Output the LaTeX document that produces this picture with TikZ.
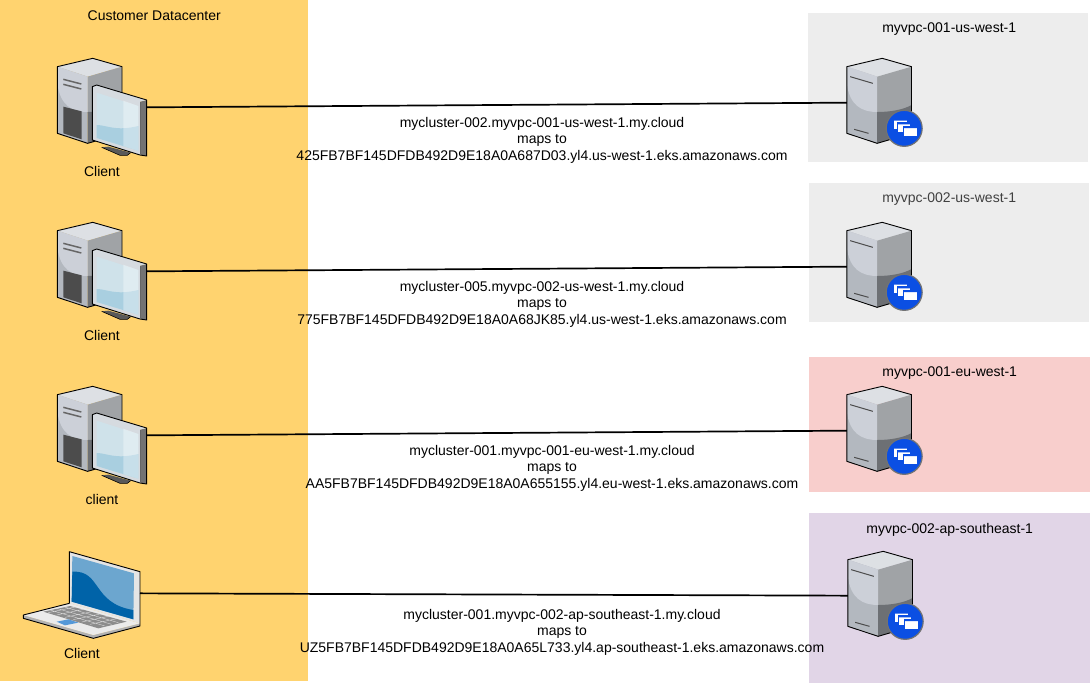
\documentclass[tikz,border=0pt]{standalone}
\usepackage{fontspec}
\setmainfont{Liberation Sans}
\usetikzlibrary{calc,positioning}
\definecolor{dcorange}{HTML}{FFD36F}
\definecolor{vpcgray}{HTML}{EDEDED}
\definecolor{vpcred}{HTML}{F8CECC}
\definecolor{vpcpurple}{HTML}{E1D5E7}
\definecolor{badgeblue}{HTML}{0B4FE3}
\definecolor{lapblue}{HTML}{0063A8}
\definecolor{lapsky}{HTML}{6CA6CF}
\definecolor{towertop}{HTML}{DDE0E4}
\definecolor{towerside}{HTML}{B3B8BF}
\definecolor{towerlight}{HTML}{CCD0D8}
\definecolor{towerright}{HTML}{A0A3A6}
\definecolor{towerdark}{HTML}{6D7074}
\definecolor{screenpale}{HTML}{CFE2EA}
\definecolor{screenwave}{HTML}{A9CFE0}
\definecolor{bezel}{HTML}{D6DBE0}
\newcommand{\towerbody}{
  \fill [towertop] (52,50) -- (158,25) -- (246,50) -- (143,80) -- cycle;
  \fill [towerside] (52,50) -- (143,80) -- (143,280) -- (52,250) -- cycle;
  \fill [towerright] (143,80) -- (246,50) -- (246,190) -- (143,190) -- cycle;
  \fill [towerdark] (143,186) .. controls (180,186) and (220,180) .. (246,165) -- (246,250) -- (143,280) -- cycle;
  \fill [towerlight] (52,50) -- (143,80) -- (143,186) .. controls (95,186) and (60,165) .. (52,100) -- cycle;
  \draw [edge] (52,50) -- (158,25) -- (246,50) -- (246,250) -- (143,280) -- (52,250) -- cycle;
}
\tikzset{
  vpcbox/.style={rectangle, inner sep=0pt, anchor=north west},
  caption/.style={font=\fontsize{14}{16}\selectfont, inner sep=0pt},
  maplabel/.style={font=\fontsize{14}{16.4}\selectfont, align=center, inner sep=0pt},
  link/.style={draw=black, line width=1.7pt},
  edge/.style={draw=black, line width=0.9pt, line join=round},
  pics/desktop/.style={code={
    \begin{scope}[scale=1/3]
      \towerbody
      \draw [black!60, line width=1.5pt] (70,88) -- (124,102) (70,103) -- (124,117);
      \fill [black!70] (70,170) -- (125,184) -- (125,268) -- (70,250) -- cycle;
      \fill [black!65] (185,292) -- (205,290) -- (272,308) -- (262,316) -- (240,316) -- cycle;
      \fill [black!55] (300,155) -- (320,150) -- (320,318) -- (300,315) -- cycle;
      \fill [bezel] (157,110) -- (170,105) -- (320,150) -- (300,155) -- (300,315) -- (157,270) -- cycle;
      \fill [screenpale] (170,128) -- (295,168) -- (295,302) -- (170,264) -- cycle;
      \fill [screenwave] (170,225) .. controls (200,225) and (225,245) .. (295,228) -- (295,302) -- (170,264) -- cycle;
      \fill [white, opacity=0.35] (250,152) -- (295,168) -- (295,302) -- (250,288) -- cycle;
      \draw [edge] (157,110) -- (170,105) -- (320,150) -- (320,318) -- (300,315) -- (157,270) -- cycle;
      \draw [black!60, line width=0.5pt] (300,155) -- (300,315);
      \draw [edge, line width=0.6pt] (185,292) -- (240,316) -- (262,316) -- (272,308);
      \coordinate (-port) at (320,172);
    \end{scope}
  }},
  pics/server/.style={code={
    \begin{scope}[scale=1/3]
      \towerbody
      \draw [black!70, line width=1pt] (62,80) -- (130,100) (74,238) -- (117,250);
      \fill [badgeblue, draw=black!55, line width=1.2pt] (224,235) circle (54);
      \draw [badgeblue, fill=white, line width=0.6pt] (192,207) rectangle (232,238);
      \draw [badgeblue, fill=white, line width=0.6pt] (204,218) rectangle (242,248);
      \draw [badgeblue, fill=white, line width=0.6pt] (221,229) rectangle (264,260);
      \fill [badgeblue] (192,207) rectangle (232,212) (204,218) rectangle (242,223) (221,229) rectangle (264,234);
      \coordinate (-port) at (52,158);
    \end{scope}
  }},
  pics/laptop/.style={code={
    \begin{scope}[scale=1/3]
      \fill [black!30] (25,225) -- (235,285) -- (375,250) -- (375,258) -- (235,295) -- (25,235) -- cycle;
      \fill [black!8] (25,225) -- (163,190) -- (375,250) -- (235,285) -- cycle;
      \fill [black!45] (85,215) -- (165,198) -- (335,245) -- (250,265) -- cycle;
      \draw [black!12, line width=0.35pt] (100,218) -- (180,201) (125,225) -- (205,208) (150,232) -- (230,215) (175,239) -- (255,222) (200,246) -- (280,229) (225,253) -- (305,236)
        (105,210) -- (270,258) (125,205) -- (290,253) (145,200) -- (310,248);
      \fill [cyan!60!blue!70!white] (125,245) -- (160,238) -- (190,248) -- (150,256) -- cycle;
      \fill [black!10] (163,35) -- (375,95) -- (375,250) -- (163,190) -- cycle;
      \fill [lapsky] (172,48) -- (357,100) -- (355,238) -- (170,185) -- cycle;
      \fill [lapblue] (172,95) .. controls (260,90) and (230,190) .. (355,210) -- (355,238) -- (170,185) -- cycle;
      \draw [edge] (163,190) -- (163,35) -- (375,95) -- (375,258) -- (235,295) -- (25,235) -- (25,225) -- (163,190);
      \coordinate (-port) at (375,160);
    \end{scope}
  }},
}
\begin{document}
\begin{tikzpicture}[x=1pt, y=-1pt]
\useasboundingbox (0,0) rectangle (1090,683);
% regions
\node [vpcbox, fill=dcorange, minimum width=308pt, minimum height=681pt] (dc) at (0,0) {};
\node [vpcbox, fill=vpcgray, minimum width=280pt, minimum height=149pt] (vpc1) at (808,13) {};
\node [vpcbox, fill=vpcgray, minimum width=280pt, minimum height=139pt] (vpc2) at (809,183) {};
\node [vpcbox, fill=vpcred, minimum width=281pt, minimum height=135pt] (vpc3) at (809,357) {};
\node [vpcbox, fill=vpcpurple, minimum width=281pt, minimum height=170pt] (vpc4) at (809,513) {};
\node [caption, below=11pt of dc.north] (dctitle) {Customer Datacenter};
\node [caption, below=10pt of vpc1.north, xshift=1pt] (title1) {myvpc-001-us-west-1};
\node [caption, below=10pt of vpc2.north, text=black!75] (title2) {myvpc-002-us-west-1};
\node [caption, below=10pt of vpc3.north] (title3) {myvpc-001-eu-west-1};
\node [caption, below=10pt of vpc4.north] (title4) {myvpc-002-ap-southeast-1};
% clients
\pic (client1) at (40,50) {desktop};
\pic (client2) at (40,214) {desktop};
\pic (client3) at (40,378) {desktop};
\pic (client4) at (15,540) {laptop};
\node [caption] (name1) at (102,171) {Client};
\node [caption] (name2) at (102,335) {Client};
\node [caption] (name3) at (102,499) {client};
\node [caption] (name4) at (82,653) {Client};
% servers
\pic (server1) at (829.5,50) {server};
\pic (server2) at (829.5,214) {server};
\pic (server3) at (829.5,378) {server};
\pic (server4) at (830.5,543) {server};
% links
\draw [link] (client1-port) -- (server1-port);
\draw [link] (client2-port) -- (server2-port);
\draw [link] (client3-port) -- (server3-port);
\draw [link] (client4-port) -- (server4-port);
\node [maplabel] (map1) at (542,140) {mycluster-002.myvpc-001-us-west-1.my.cloud\\maps to\\425FB7BF145DFDB492D9E18A0A687D03.yl4.us-west-1.eks.amazonaws.com};
\node [maplabel] (map2) at (542,304) {mycluster-005.myvpc-002-us-west-1.my.cloud\\maps to\\775FB7BF145DFDB492D9E18A0A68JK85.yl4.us-west-1.eks.amazonaws.com};
\node [maplabel] (map3) at (552,468) {mycluster-001.myvpc-001-eu-west-1.my.cloud\\maps to\\AA5FB7BF145DFDB492D9E18A0A655155.yl4.eu-west-1.eks.amazonaws.com};
\node [maplabel] (map4) at (562,632) {mycluster-001.myvpc-002-ap-southeast-1.my.cloud\\maps to\\UZ5FB7BF145DFDB492D9E18A0A65L733.yl4.ap-southeast-1.eks.amazonaws.com};
\end{tikzpicture}
\end{document}
